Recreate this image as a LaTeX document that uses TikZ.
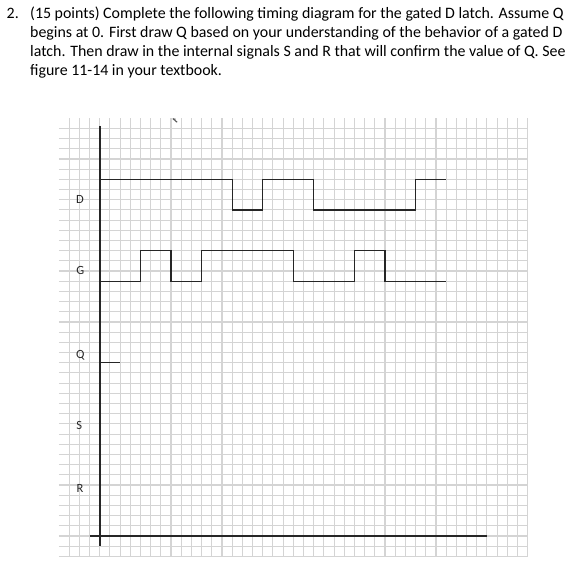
\documentclass[tikz,border=0pt]{standalone}
\usepackage{fontspec}
\setmainfont{Carlito}
\begin{document}
\begin{tikzpicture}[x=1pt,y=-1pt,
  txt/.style={anchor=base west,inner sep=0pt,font=\fontsize{15.9}{18}\selectfont,text=black},
  lbl/.style={inner sep=0pt,font=\fontsize{12.5}{14}\selectfont,text=black!85},
  gridln/.style={draw=black!17,line width=1.1pt},
  sig/.style={draw=black!85,line width=1.3pt,line join=miter},
  axis/.style={draw=black!85,line width=1.8pt}]
\useasboundingbox (0,0) rectangle (582,580);
\node[txt] (n2) at (6.5,18.5) {2.};
\node[txt] (l1) at (30,18.5) {(15 points) Complete the following timing diagram for the gated D latch. Assume Q};
\node[txt] (l2) at (30,37.5) {begins at 0. First draw Q based on your understanding of the behavior of a gated D};
\node[txt] (l3) at (30,56.5) {latch. Then draw in the internal signals S and R that will confirm the value of Q. See};
\node[txt] (l4) at (30,75.5) {figure 11-14 in your textbook.};
\begin{scope}[shift={(58.94pt,-118.2pt)},x=10.19pt,y=-10.19pt]
  \foreach \j in {1,...,43} \draw[gridln] (0,\j) -- (46,\j);
  \foreach \k in {1,...,46} \draw[gridln] (\k,0) -- (\k,43);
  % axes
  \draw[axis] (4,0.75) -- (4,42);
  \draw[axis] (3,41) -- (42,41);
  % D
  \draw[sig] (4,6) -- (17,6) -- (17,9) -- (20,9) -- (20,6) -- (25,6) -- (25,9) -- (35,9) -- (35,6) -- (38,6);
  % G
  \draw[sig] (4,16) -- (8,16) -- (8,13) -- (11,13) -- (11,16) -- (14,16) -- (14,13) -- (23,13) -- (23,16) -- (29,16) -- (29,13) -- (32,13) -- (32,16) -- (38,16);
  % Q
  \draw[sig] (4,24) -- (6,24);
  % labels
  \node[lbl] (D) at (2.07,7.95) {D};
  \node[lbl] (G) at (2.1,14.9) {G};
  \node[lbl] (Q) at (2.1,23.3) {Q};
  \node[lbl] (S) at (2.0,30.2) {S};
  \node[lbl] (R) at (2.07,36.3) {R};
  % small mark
  \draw[black!65,line width=1.1pt] (11.2,0.05) -- (11.6,0.4);
  \draw[black!65,line width=0.9pt] (11.15,0.05) -- (11.45,0.1);
\end{scope}
\end{tikzpicture}
\end{document}
